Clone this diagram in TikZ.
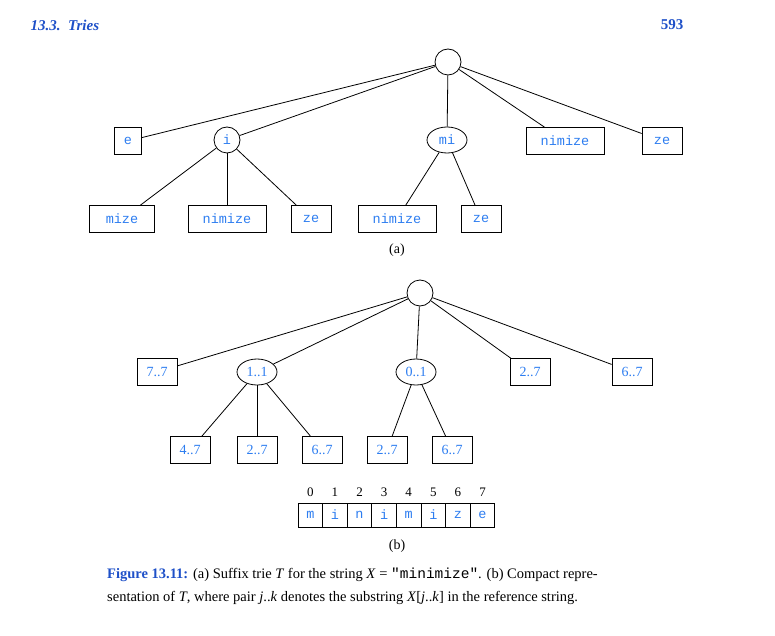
\documentclass[tikz,border=0pt]{standalone}
\usepackage{fontspec}
\setmainfont{Liberation Serif}
\setmonofont{Liberation Mono}
\usetikzlibrary{shapes.geometric}
\definecolor{tb}{RGB}{45,125,240}
\definecolor{hb}{RGB}{30,80,200}
\begin{document}
\begin{tikzpicture}[x=1pt,y=-1pt,
 box/.style={draw,thick,minimum height=27pt,inner sep=0pt,font=\ttfamily\fontsize{13.5}{13.5}\selectfont,text=tb},
 nbox/.style={draw,thick,minimum height=27pt,minimum width=40pt,inner sep=0pt,font=\fontsize{14}{14}\selectfont,text=tb},
 circ/.style={draw,thick,circle,minimum size=26pt,inner sep=0pt},
 ell/.style={draw,thick,ellipse,minimum height=26pt,minimum width=40pt,inner sep=0pt,text=tb},
 cell/.style={draw,thick,minimum height=24pt,minimum width=24.6pt,inner sep=0pt,font=\ttfamily\fontsize{13.5}{13.5}\selectfont,text=tb},
 ed/.style={thick}]
\useasboundingbox (0,0) rectangle (775,636);
\node[anchor=west,font=\bfseries\itshape\fontsize{15}{15}\selectfont,text=hb] (h1) at (27,25) {13.3.\ \ Tries};
\node[anchor=east,font=\bfseries\fontsize{15}{15}\selectfont,text=hb] (h2) at (687,25) {593};
% tree a
\node[circ] (r) at (448,62) {};
\node[box,minimum width=27pt] (e) at (128,141) {e};
\node[circ,text=tb,font=\ttfamily\fontsize{13.5}{13.5}\selectfont] (i) at (227,140) {i};
\node[ell,font=\ttfamily\fontsize{13.5}{13.5}\selectfont] (mi) at (447,140) {mi};
\node[box,minimum width=78pt] (nm) at (565,141) {nimize};
\node[box,minimum width=40pt] (z) at (662,141) {ze};
\node[box,minimum width=65pt] (a1) at (122,219) {mize};
\node[box,minimum width=78pt] (a2) at (227,219) {nimize};
\node[box,minimum width=40pt] (a3) at (311,219) {ze};
\node[box,minimum width=78pt] (a4) at (397,219) {nimize};
\node[box,minimum width=40pt] (a5) at (481,219) {ze};
\foreach \c in {e,i,mi,nm,z} \draw[ed] (r) -- (\c);
\foreach \c in {a1,a2,a3} \draw[ed] (i) -- (\c);
\foreach \c in {a4,a5} \draw[ed] (mi) -- (\c);
\node[font=\fontsize{14}{14}\selectfont] (la) at (397,250) {(a)};
% tree b
\node[circ] (R) at (420,293) {};
\node[nbox] (b1) at (157,372) {7..7};
\node[ell,font=\fontsize{14}{14}\selectfont] (b2) at (257,372) {1..1};
\node[ell,font=\fontsize{14}{14}\selectfont] (b3) at (416,372) {0..1};
\node[nbox] (b4) at (530,372) {2..7};
\node[nbox] (b5) at (632,372) {6..7};
\node[nbox] (c1) at (190,450) {4..7};
\node[nbox] (c2) at (257,450) {2..7};
\node[nbox] (c3) at (322,450) {6..7};
\node[nbox] (c4) at (387,450) {2..7};
\node[nbox] (c5) at (452,450) {6..7};
\foreach \c in {b1,b2,b3,b4,b5} \draw[ed] (R) -- (\c);
\foreach \c in {c1,c2,c3} \draw[ed] (b2) -- (\c);
\foreach \c in {c4,c5} \draw[ed] (b3) -- (\c);
\foreach \ch [count=\k from 0] in {m,i,n,i,m,i,z,e} {
  \node[cell] (s\k) at (310.3+24.6*\k,515) {\ch};
  \node[font=\fontsize{13}{13}\selectfont] (n\k) at (310.3+24.6*\k,492) {\k};
}
\node[font=\fontsize{14}{14}\selectfont] (lb) at (397,546) {(b)};
\node[anchor=north west,text width=580pt,align=justify,inner sep=0pt,font=\fontsize{14.5}{23}\selectfont] (cap) at (107,568)
 {\textcolor{hb}{\textbf{Figure 13.11:}} (a) Suffix trie \textit{T} for the string \textit{X} = \texttt{"minimize"}. (b) Compact repre-\\
 sentation of \textit{T}, where pair \textit{j}..\textit{k} denotes the substring \textit{X}[\textit{j}..\textit{k}] in the reference string.};
\end{tikzpicture}
\end{document}
